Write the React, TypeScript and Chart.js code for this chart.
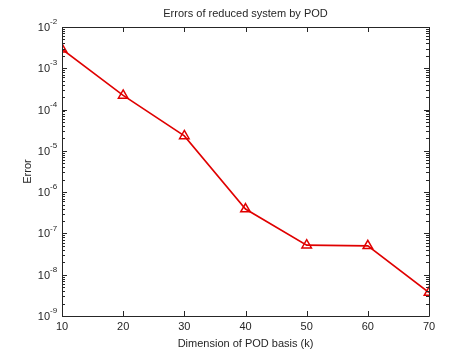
import React, { useEffect, useRef } from "react";
import { Chart, registerables } from "chart.js";

Chart.register(...registerables);

const dims = [10, 20, 30, 40, 50, 60, 70];
const errors = [2.9e-3, 2.2e-4, 2.3e-5, 3.9e-7, 5.2e-8, 5.0e-8, 3.7e-9];
const xTicks = [10, 20, 30, 40, 50, 60, 70];
const yExponents = [-2, -3, -4, -5, -6, -7, -8, -9];
const titleText = "Errors of reduced system by POD";
const xLabel = "Dimension of POD basis (k)";
const yLabel = "Error";

const FONT = "Arial, 'Liberation Sans', sans-serif";

const axesPlugin = {
  id: "matlabAxes",
  afterDraw(chart: any) {
    const ctx = chart.ctx;
    const { left, right, top, bottom } = chart.chartArea;
    const xs = chart.scales.x;
    const ys = chart.scales.y;
    ctx.save();
    ctx.strokeStyle = "#262626";
    ctx.lineWidth = 1;
    ctx.beginPath();
    ctx.rect(Math.round(left) + 0.5, Math.round(top) + 0.5, Math.round(right - left), Math.round(bottom - top));
    ctx.stroke();
    ctx.beginPath();
    xTicks.forEach((t) => {
      const px = Math.round(xs.getPixelForValue(t)) + 0.5;
      ctx.moveTo(px, bottom);
      ctx.lineTo(px, bottom - 5);
      ctx.moveTo(px, top);
      ctx.lineTo(px, top + 5);
    });
    yExponents.forEach((e) => {
      const py = Math.round(ys.getPixelForValue(Math.pow(10, e))) + 0.5;
      ctx.moveTo(left, py);
      ctx.lineTo(left + 5, py);
      ctx.moveTo(right, py);
      ctx.lineTo(right - 5, py);
      if (e > -9) {
        for (let m = 2; m <= 9; m++) {
          const v = m * Math.pow(10, e - 1);
          const pm = Math.round(ys.getPixelForValue(v)) + 0.5;
          ctx.moveTo(left, pm);
          ctx.lineTo(left + 3, pm);
          ctx.moveTo(right, pm);
          ctx.lineTo(right - 3, pm);
        }
      }
    });
    ctx.stroke();

    ctx.fillStyle = "#262626";
    ctx.font = `11px ${FONT}`;
    ctx.textAlign = "center";
    ctx.textBaseline = "middle";
    xTicks.forEach((t) => {
      ctx.fillText(String(t), xs.getPixelForValue(t), bottom + 11);
    });
    yExponents.forEach((e) => {
      const py = ys.getPixelForValue(Math.pow(10, e));
      ctx.font = `11px ${FONT}`;
      ctx.textAlign = "right";
      ctx.textBaseline = "middle";
      ctx.fillText("10", left - 12, py + 1);
      ctx.font = `8px ${FONT}`;
      ctx.textAlign = "left";
      ctx.fillText(String(e), left - 12, py - 5);
    });
    ctx.font = `11px ${FONT}`;
    ctx.textAlign = "center";
    ctx.textBaseline = "middle";
    ctx.fillText(titleText, (left + right) / 2, top - 13);
    ctx.fillText(xLabel, (left + right) / 2, bottom + 28);
    ctx.save();
    ctx.translate(left - 34, (top + bottom) / 2);
    ctx.rotate(-Math.PI / 2);
    ctx.fillText(yLabel, 0, 0);
    ctx.restore();
    ctx.restore();
  },
};

export default function App() {
  const ref = useRef<HTMLCanvasElement | null>(null);
  useEffect(() => {
    if (!ref.current) return;
    const chart = new Chart(ref.current, {
      type: "line",
      data: {
        datasets: [
          {
            data: dims.map((d, i) => ({ x: d, y: errors[i] })),
            borderColor: "#e00000",
            borderWidth: 1.6,
            pointStyle: "triangle",
            pointRadius: 5.5,
            pointBorderWidth: 1.5,
            pointBackgroundColor: "rgba(0,0,0,0)",
            pointBorderColor: "#e00000",
            tension: 0,
          },
        ],
      },
      options: {
        animation: false,
        responsive: false,
        devicePixelRatio: 1,
        layout: { padding: { left: 62, right: 45, top: 27, bottom: 39 } },
        plugins: { legend: { display: false }, tooltip: { enabled: false } },
        scales: {
          x: { type: "linear", min: 10, max: 70, display: false },
          y: { type: "logarithmic", min: 1e-9, max: 1e-2, display: false },
        },
      },
      plugins: [axesPlugin],
    });
    return () => chart.destroy();
  }, []);
  return (
    <div style={{ position: "fixed", left: 0, top: 0, width: 474, height: 355, background: "#fff" }}>
      <canvas ref={ref} width={474} height={355} />
    </div>
  );
}
